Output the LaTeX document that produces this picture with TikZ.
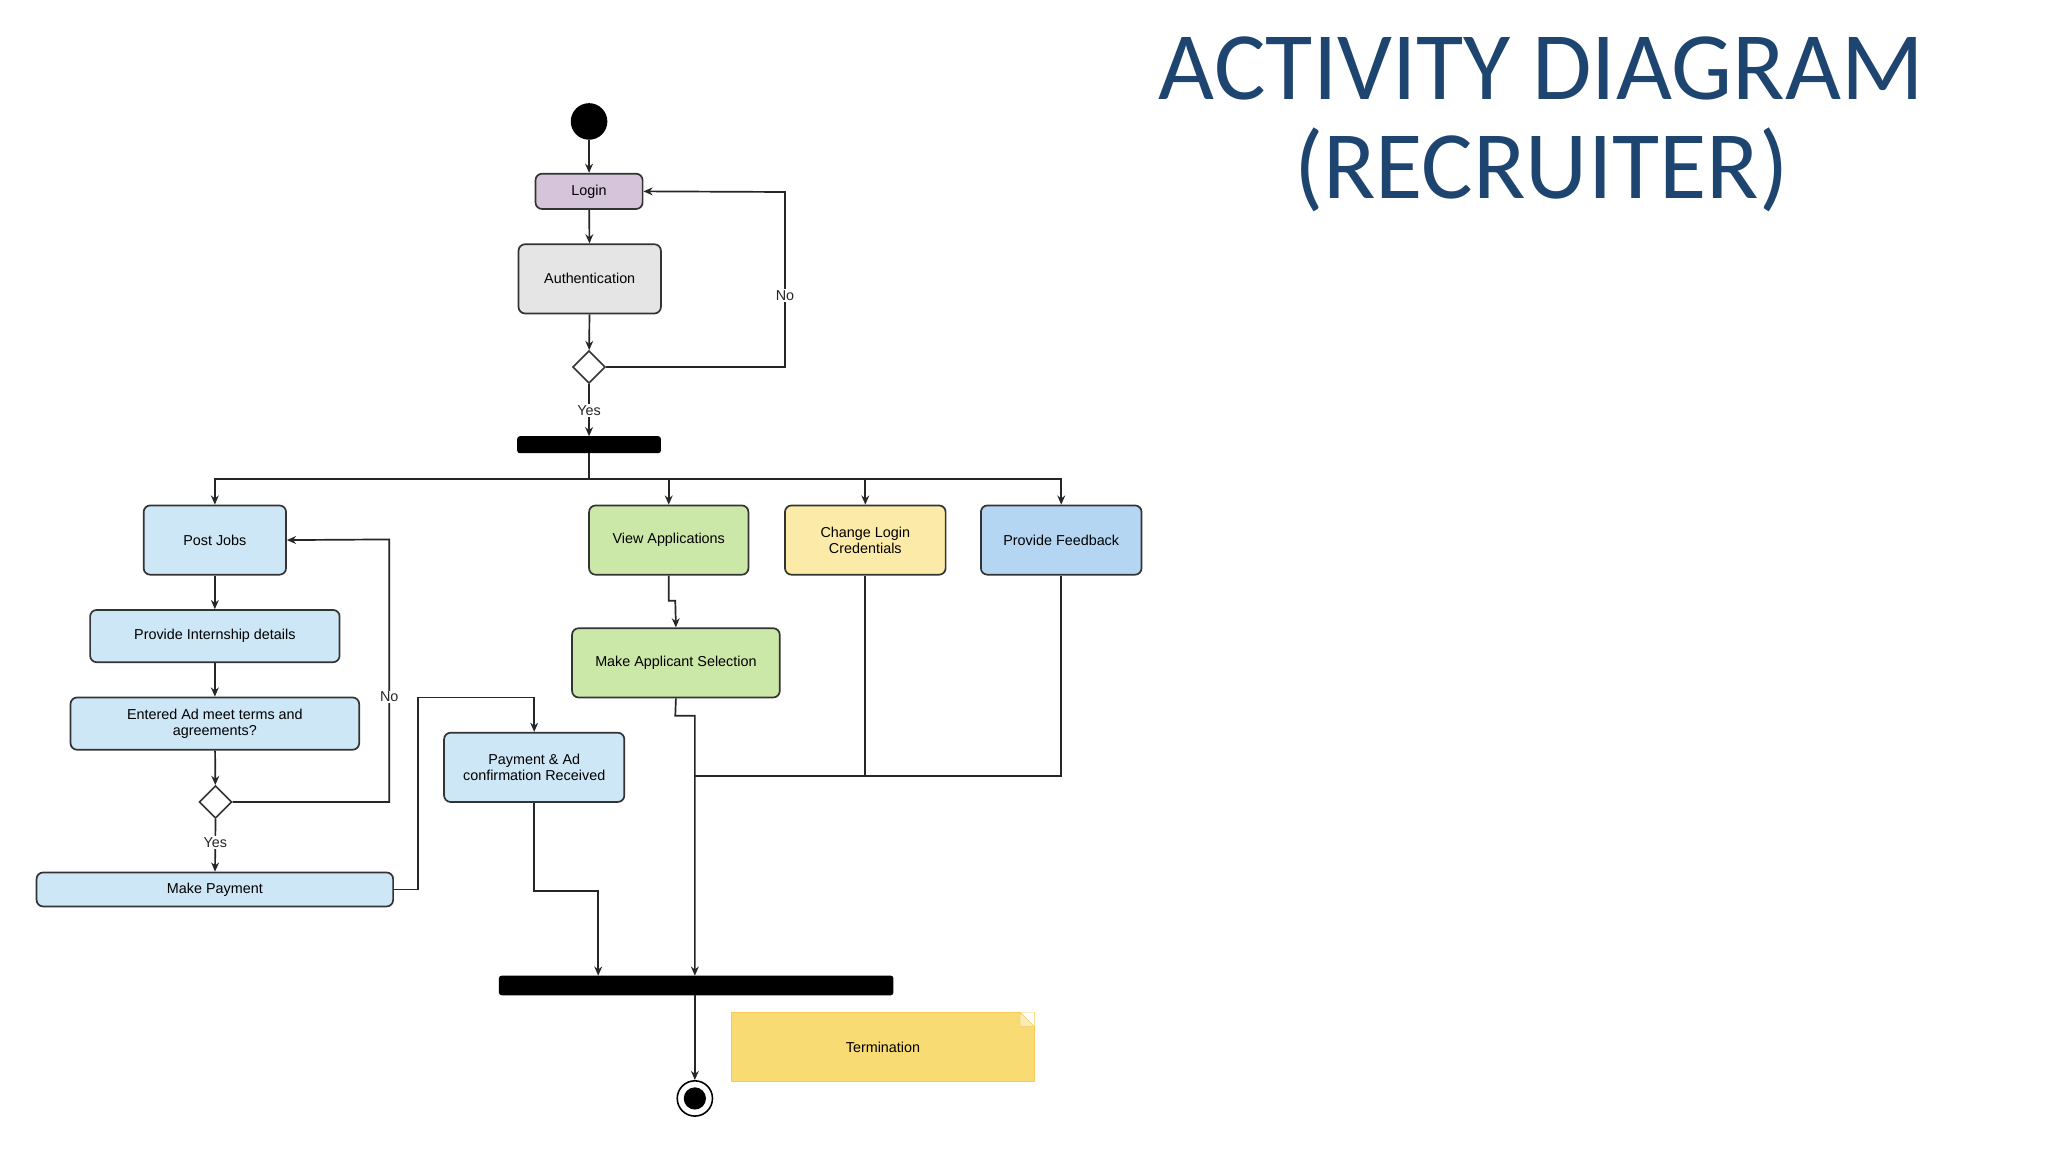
\documentclass[tikz,border=0pt]{standalone}
\usepackage{fontspec}
\setmainfont{Liberation Sans}
\newfontfamily\titlefont{Carlito}
\usetikzlibrary{shapes.geometric,arrows.meta}
\definecolor{cblue}{HTML}{CDE7F6}
\definecolor{cgreen}{HTML}{CBE8A8}
\definecolor{cyel}{HTML}{FCEBA8}
\definecolor{cfb}{HTML}{B5D6F2}
\definecolor{cpur}{HTML}{D6C4DA}
\definecolor{cnote}{HTML}{F8DB72}
\definecolor{ctitle}{HTML}{1E4570}
\begin{document}
\begin{tikzpicture}[x=1pt,y=-1pt,
 box/.style={draw=black!80,line width=1.3pt,rounded corners=5pt,align=center,font=\fontsize{11}{12.5}\selectfont,inner sep=1pt},
 dec/.style={draw=black!80,line width=1.2pt,diamond,fill=white,minimum width=25pt,minimum height=25pt,inner sep=0pt},
 bar/.style={fill=black,rounded corners=2pt},
 arr/.style={-{Stealth[length=7pt,width=6pt]},line width=1.3pt,black!85},
 ln/.style={line width=1.3pt,black!85},
 lab/.style={font=\fontsize{11}{12.5}\selectfont,fill=white,inner sep=1pt}]
\useasboundingbox (0,0) rectangle (1568,882);
\fill[white] (0,0) rectangle (1568,882);
\node[font=\titlefont\fontsize{74}{76}\selectfont,text=ctitle,align=center] (title) at (1180,95) {ACTIVITY DIAGRAM\\(RECRUITER)};
\node[circle,fill=black,minimum size=28pt,inner sep=0pt] (start) at (451,93) {};
\node[box,fill=cpur,minimum width=82pt,minimum height=27pt] (login) at (451,146.5) {Login};
\node[box,fill=gray!20,minimum width=109pt,minimum height=53pt] (auth) at (451.5,213.5) {Authentication};
\node[dec] (d1) at (451,281) {};
\path[bar] (396,334) rectangle (506,347); \coordinate (fork) at (451,347); \coordinate (forktop) at (451,334);
\node[box,fill=cblue,minimum width=109pt,minimum height=53pt] (post) at (164.5,413.5) {Post Jobs};
\node[box,fill=cgreen,minimum width=122pt,minimum height=53pt] (view) at (512,413.5) {View Applications};
\node[box,fill=cyel,minimum width=123pt,minimum height=53pt] (chg) at (662.5,413.5) {Change Login\\Credentials};
\node[box,fill=cfb,minimum width=123pt,minimum height=53pt] (fb) at (812.5,413.5) {Provide Feedback};
\node[box,fill=cblue,minimum width=191pt,minimum height=40pt] (intern) at (164.5,487) {Provide Internship details};
\node[box,fill=cblue,minimum width=221pt,minimum height=40pt] (terms) at (164.5,554) {Entered Ad meet terms and\\agreements?};
\node[dec] (d2) at (165,614) {};
\node[box,fill=cblue,minimum width=273pt,minimum height=26pt] (pay) at (164.5,681) {Make Payment};
\node[box,fill=cblue,minimum width=138pt,minimum height=53pt] (conf) at (409,587.5) {Payment \& Ad\\confirmation Received};
\node[box,fill=cgreen,minimum width=159pt,minimum height=53pt] (sel) at (517.5,507.5) {Make Applicant Selection};
\path[bar] (382,747) rectangle (684,762);
\node[circle,draw=black,line width=1.2pt,minimum size=27pt,inner sep=0pt] (end) at (532,841) {};
\fill (end) circle (8.5pt);
\node[fill=cnote,draw=cnote!80!orange,minimum width=232pt,minimum height=53pt,font=\fontsize{11}{12.5}\selectfont] (term) at (676,801.5) {Termination};
\fill[white] (781,775) -- (792,775) -- (792,786) -- cycle;
\draw[cnote!80!orange,fill=cnote!50] (781,775) -- (792,786) -- (781,786) -- cycle;
\coordinate (j1) at (458,747); \coordinate (j2) at (532,747); \coordinate (jo) at (532,762);
\draw[arr] (start) -- (login);
\draw[arr] (login) -- (auth);
\draw[arr] (auth) -- (d1);
\draw[arr] (d1.south) -- node[lab,pos=0.5]{Yes} (forktop);
\draw[arr] (d1.east) -- (601,281) -- node[lab,pos=0.41]{No} (601,147) -- (login.east);
\draw[ln] (fork) -- (451,367);
\draw[arr] (451,367) -| (post.north);
\draw[arr] (451,367) -| (view.north);
\draw[arr] (451,367) -| (chg.north);
\draw[arr] (451,367) -| (fb.north);
\draw[arr] (post) -- (intern);
\draw[arr] (intern) -- (terms);
\draw[arr] (terms) -- (d2);
\draw[arr] (d2.south) -- node[lab,pos=0.45]{Yes} (pay);
\draw[arr] (d2.east) -- (298,614) -- node[lab,pos=0.4]{No} (298,413) -- (post.east);
\draw[arr] (pay.east) -- (320,681) -- (320,534) -- (409,534) -- (conf.north);
\draw[arr] (view.south) -- (512,460) -- (517,460) -- (sel.north);
\draw[arr] (sel.south) -- (517,548) -- (532,548) -- (j2);
\draw[ln] (chg.south) |- (532,594);
\draw[ln] (fb.south) |- (662,594);
\draw[arr] (conf.south) -- (409,682) -- (458,682) -- (j1);
\draw[arr] (jo) -- (end);
\end{tikzpicture}
\end{document}
